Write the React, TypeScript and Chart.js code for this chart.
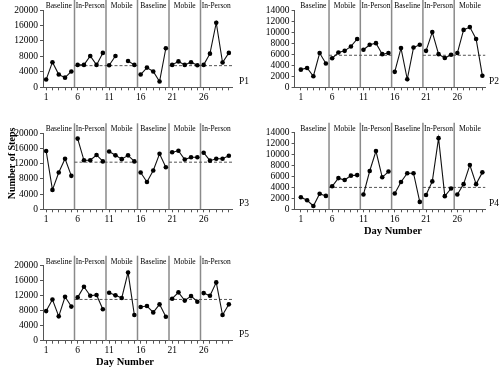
import React, { useEffect, useRef } from 'react';
import { Chart, registerables } from 'chart.js';

Chart.register(...registerables);

const DAYS = [1, 2, 3, 4, 5, 6, 7, 8, 9, 10, 11, 12, 13, 14, 15, 16, 17, 18, 19, 20, 21, 22, 23, 24, 25, 26, 27, 28, 29, 30];
const DAY_LABELS = [1, 6, 11, 16, 21, 26];
const PHASE_BREAKS = [5.5, 10.5, 15.5, 20.5, 25.5];
const PHASE_CENTERS = [3, 8, 13, 18, 23, 28];
const GOAL_SPANS = [[5.5, 15.5], [20.5, 30.5]];

const PHASES_A = ['Baseline', 'In-Person', 'Mobile', 'Baseline', 'Mobile', 'In-Person'];
const PHASES_B = ['Baseline', 'Mobile', 'In-Person', 'Baseline', 'In-Person', 'Mobile'];

const TICKS_20K = [0, 4000, 8000, 12000, 16000, 20000];
const TICKS_14K = [0, 2000, 4000, 6000, 8000, 10000, 12000, 14000];

const P1_STEPS = [2000, 6500, 3300, 2500, 4100, 5800, 5800, 8100, 5800, 8900, 5700, 8100, null, 6800, 5800, 3300, 5100, 4100, 1500, 10100, 5800, 6700, 5800, 6500, 5700, 5800, 8700, 16700, 6400, 8900];
const P2_STEPS = [3200, 3500, 2000, 6200, 4300, 5250, 6300, 6600, 7400, 8750, 6800, 7700, 8000, 6000, 6200, 2800, 7100, 1450, 7200, 7700, 6600, 10000, 6000, 5300, 5900, 6200, 10400, 10900, 8750, 2100];
const P3_STEPS = [15350, 5100, 9700, 13300, 8800, 18600, 12900, 12900, 14300, 12600, 15200, 14200, 13200, 14200, 12600, 9700, 7200, 10200, 14600, 11050, 15000, 15400, 13100, 13700, 13700, 14900, 12800, 13300, 13300, 14100];
const P4_STEPS = [2200, 1650, 600, 2850, 2450, 4200, 5700, 5350, 6150, 6250, 2700, 7000, 10650, 5850, 6900, 2900, 5000, 6600, 6600, 1350, 2600, 5100, 13000, 2400, 3800, 2700, 4600, 8100, 4600, 6750];
const P5_STEPS = [7900, 11000, 6500, 11700, 9100, 11550, 14400, 12000, 12200, 8400, 12800, 12100, 11400, 18200, 6850, 9000, 9250, 7550, 9700, 6400, 11200, 12900, 10700, 11900, 10400, 12700, 12000, 15550, 6850, 9700];

const P1_GOAL = 5600;
const P2_GOAL = 5800;
const P3_GOAL = 12400;
const P4_GOAL = 4000;
const P5_GOAL = 11000;

const FONT = 'Liberation Serif';

type PanelCfg = {
  name: string;
  steps: (number | null)[];
  goal: number;
  phases: string[];
  yTicks: number[];
  box: { x: number; y: number; w: number; h: number };
  area: { l: number; r: number; t: number; b: number };
  xMin: number;
  tickFont: number;
  xTitleX?: number;
  yTitle?: boolean;
};

const PANELS: PanelCfg[] = [
  { name: 'P1', steps: P1_STEPS, goal: P1_GOAL, phases: PHASES_A, yTicks: TICKS_20K,
    box: { x: 0, y: 0, w: 250, h: 122 }, area: { l: 43, r: 232, t: 10, b: 87.3 }, xMin: 0.5, tickFont: 9.5 },
  { name: 'P2', steps: P2_STEPS, goal: P2_GOAL, phases: PHASES_B, yTicks: TICKS_14K,
    box: { x: 250, y: 0, w: 250, h: 122 }, area: { l: 294.6, r: 485.5, t: 10, b: 87.3 }, xMin: 0, tickFont: 9.5 },
  { name: 'P3', steps: P3_STEPS, goal: P3_GOAL, phases: PHASES_A, yTicks: TICKS_20K,
    box: { x: 0, y: 122, w: 250, h: 123 }, area: { l: 43, r: 232, t: 133.3, b: 209.3 }, xMin: 0.5, tickFont: 9.5, yTitle: true },
  { name: 'P4', steps: P4_STEPS, goal: P4_GOAL, phases: PHASES_B, yTicks: TICKS_14K,
    box: { x: 250, y: 122, w: 250, h: 123 }, area: { l: 294.6, r: 485.5, t: 132.7, b: 209.3 }, xMin: 0, tickFont: 9.5, xTitleX: 393 },
  { name: 'P5', steps: P5_STEPS, goal: P5_GOAL, phases: PHASES_A, yTicks: TICKS_20K,
    box: { x: 0, y: 245, w: 250, h: 124 }, area: { l: 43, r: 232, t: 265.7, b: 340.7 }, xMin: 0.5, tickFont: 9.5, xTitleX: 125 },
];

const Y_AXIS_W = 40;
const X_AXIS_H = 20;

function Panel({ cfg }: { cfg: PanelCfg }) {
  const ref = useRef<HTMLCanvasElement>(null);
  useEffect(() => {
    const canvas = ref.current;
    if (!canvas) return;
    const { box, area } = cfg;

    const datasets: any[] = [];
    for (let p = 0; p < 6; p++) {
      const pts: any[] = [];
      for (let i = p * 5; i < p * 5 + 5; i++) pts.push({ x: DAYS[i], y: cfg.steps[i] });
      datasets.push({
        data: pts, borderColor: '#111', borderWidth: 1.1, pointRadius: 2.3,
        pointBackgroundColor: '#000', pointBorderColor: '#000', pointBorderWidth: 0,
        spanGaps: false, tension: 0, order: 1,
      });
    }
    GOAL_SPANS.forEach(([a, b]) => {
      datasets.push({
        data: [{ x: a, y: cfg.goal }, { x: b, y: cfg.goal }],
        borderColor: '#555', borderWidth: 1, borderDash: [3, 2], pointRadius: 0, order: 2,
      });
    });

    const decor = {
      id: 'decor_' + cfg.name,
      beforeDatasetsDraw(chart: any) {
        const { ctx, chartArea } = chart;
        const xs = chart.scales.x;
        ctx.save();
        ctx.strokeStyle = '#8a8a8a';
        ctx.lineWidth = 1.5;
        PHASE_BREAKS.forEach((b) => {
          const px = xs.getPixelForValue(b);
          ctx.beginPath();
          ctx.moveTo(px, chartArea.top - 10);
          ctx.lineTo(px, chartArea.bottom);
          ctx.stroke();
        });
        ctx.restore();
      },
      afterDraw(chart: any) {
        const { ctx, chartArea } = chart;
        const xs = chart.scales.x;
        ctx.save();
        ctx.fillStyle = '#000';
        ctx.font = `7.6px "${FONT}"`;
        ctx.textAlign = 'center';
        ctx.textBaseline = 'middle';
        cfg.phases.forEach((label, i) => {
          const cx = xs.getPixelForValue(PHASE_CENTERS[i]);
          const w = ctx.measureText(label).width;
          const maxW = 29;
          if (w > maxW) {
            ctx.save();
            ctx.translate(cx, chartArea.top - 4);
            ctx.scale(maxW / w, 1);
            ctx.fillText(label, 0, 0);
            ctx.restore();
          } else {
            ctx.fillText(label, cx, chartArea.top - 4);
          }
        });
        ctx.font = `9.5px "${FONT}"`;
        ctx.textAlign = 'right';
        ctx.fillText(cfg.name, box.w - 1, chartArea.bottom - 6);
        if (cfg.xTitleX !== undefined) {
          ctx.font = `bold 10.5px "${FONT}"`;
          ctx.textAlign = 'center';
          ctx.fillText('Day Number', cfg.xTitleX - box.x, chartArea.bottom + 22);
        }
        if (cfg.yTitle) {
          ctx.translate(12, 163.5 - box.y);
          ctx.rotate(-Math.PI / 2);
          ctx.font = `bold 10px "${FONT}"`;
          ctx.textAlign = 'center';
          ctx.fillText('Number of Steps', 0, 0);
        }
        ctx.restore();
      },
    };

    const yMax = cfg.yTicks[cfg.yTicks.length - 1];
    const chart = new Chart(canvas, {
      type: 'line',
      data: { datasets },
      options: {
        animation: false,
        responsive: false,
        maintainAspectRatio: false,
        devicePixelRatio: 1,
        layout: {
          padding: {
            left: area.l - box.x - Y_AXIS_W,
            right: box.x + box.w - area.r,
            top: area.t - box.y,
            bottom: box.y + box.h - area.b - X_AXIS_H,
          },
        },
        plugins: { legend: { display: false }, tooltip: { enabled: false } },
        scales: {
          x: {
            type: 'linear',
            min: cfg.xMin,
            max: 30.5,
            afterFit: (s: any) => { s.height = X_AXIS_H; },
            afterBuildTicks: (s: any) => { s.ticks = DAYS.map((v) => ({ value: v })); },
            ticks: {
              autoSkip: false, maxRotation: 0, minRotation: 0, padding: 1, color: '#000',
              font: { family: FONT, size: cfg.tickFont },
              callback: (v: any) => (DAY_LABELS.includes(Number(v)) ? String(v) : ''),
            },
            grid: { drawOnChartArea: false, drawTicks: true, tickLength: 3, color: '#555' },
            border: { display: true, color: '#555', width: 1 },
          },
          y: {
            min: 0,
            max: yMax,
            afterFit: (s: any) => { s.width = Y_AXIS_W; },
            afterBuildTicks: (s: any) => { s.ticks = cfg.yTicks.map((v) => ({ value: v })); },
            ticks: {
              autoSkip: false, padding: 2, color: '#000',
              font: { family: FONT, size: cfg.tickFont },
              callback: (v: any) => String(v),
            },
            grid: { drawOnChartArea: false, drawTicks: true, tickLength: 3, color: '#555' },
            border: { display: true, color: '#555', width: 1 },
          },
        },
      },
      plugins: [decor],
    } as any);
    return () => chart.destroy();
  }, [cfg]);

  return (
    <canvas
      ref={ref}
      width={cfg.box.w}
      height={cfg.box.h}
      style={{ position: 'absolute', left: cfg.box.x, top: cfg.box.y, width: cfg.box.w, height: cfg.box.h }}
    />
  );
}

export default function App() {
  return (
    <div style={{ position: 'absolute', left: 0, top: 0, width: 500, height: 369, background: '#fff', overflow: 'hidden' }}>
      {PANELS.map((p) => (
        <Panel key={p.name} cfg={p} />
      ))}
    </div>
  );
}
